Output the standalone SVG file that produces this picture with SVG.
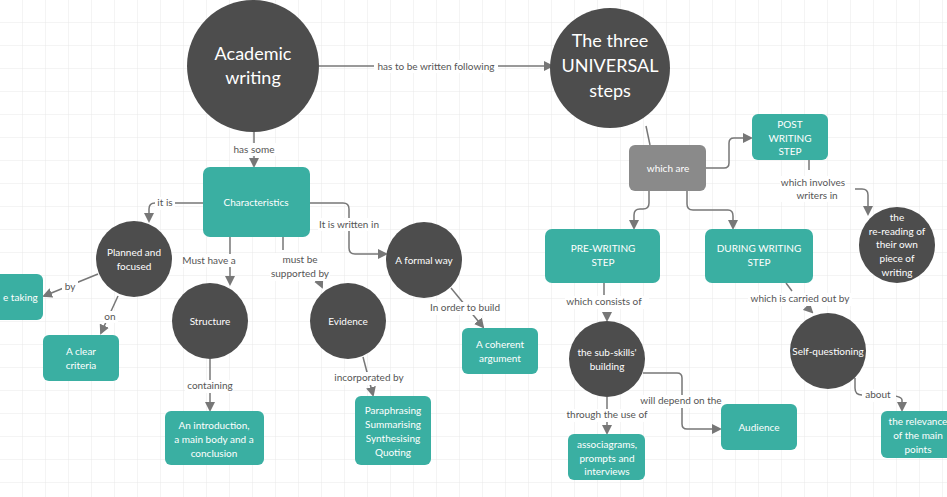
<svg xmlns="http://www.w3.org/2000/svg" width="947" height="497" viewBox="0 0 947 497">
<defs>
<pattern id="g" width="23" height="23" patternUnits="userSpaceOnUse"><path d="M23 0V23H0" fill="none" stroke="#e8e8e8" stroke-width="1"/></pattern>
<marker id="a" markerWidth="10" markerHeight="10" refX="8" refY="5" orient="auto" markerUnits="userSpaceOnUse"><path d="M0 0L10 5L0 10z" fill="#777"/></marker>
<style>
.c{fill:#4d4d4d}.b{fill:#3aafa2}.w{fill:#8a8a8a}
.t{font-family:Lato,"Liberation Sans",sans-serif;fill:#fff;text-anchor:middle;font-size:10px}
.T{font-family:Lato,"Liberation Sans",sans-serif;fill:#fff;text-anchor:middle;font-size:18px}
.l{font-family:Lato,"Liberation Sans",sans-serif;fill:#555;text-anchor:middle;font-size:10px}
.e path{fill:none;stroke:#777;stroke-width:1.5;marker-end:url(#a)}
.e path.n{marker-end:none}
.e rect{fill:#fff}
</style>
</defs>
<rect width="947" height="497" fill="#fff"/>
<rect width="947" height="497" fill="url(#g)"/>
<g class="e" id="connectors">
<path d="M319 66H552"/><rect x="374" y="60" width="124" height="13"/><text class="l" x="436" y="70">has to be written following</text>
<path d="M254 132V166"/><rect x="231" y="143" width="46" height="13"/><text class="l" x="254" y="153">has some</text>
<path d="M203 203H155Q149 203 149 209V221"/><rect x="155" y="197" width="20" height="13"/><text class="l" x="165" y="206">it is</text>
<path d="M310 203H343Q349 203 349 209V248Q349 254 355 254H386"/><rect x="318" y="218" width="62" height="13"/><text class="l" x="349" y="228">It is written in</text>
<path d="M230 237V284"/><rect x="180" y="254" width="58" height="13"/><text class="l" x="209" y="264">Must have a</text>
<path d="M283 237V250M316 274L322 287"/><rect x="270" y="253" width="60" height="28"/><text class="l" x="300" y="263">must be</text><text class="l" x="300" y="277">supported by</text>
<path d="M98 274L44 296"/><rect x="62" y="281" width="16" height="12"/><text class="l" x="70" y="290">by</text>
<path d="M118 296L101 333"/><rect x="104" y="311" width="14" height="12"/><text class="l" x="110" y="320">on</text>
<path d="M210 359V410"/><rect x="185" y="380" width="48" height="13"/><text class="l" x="210" y="389">containing</text>
<path d="M363 357L373 395"/><rect x="332" y="372" width="74" height="13"/><text class="l" x="369" y="381">incorporated by</text>
<path d="M451 288L483 327"/><rect x="428" y="302" width="74" height="13"/><text class="l" x="465" y="311">In order to build</text>
<path class="n" d="M646 126L650 145"/>
<path d="M706 168H724Q729 168 729 163V143Q729 138 734 138H751"/>
<path d="M649 191V203Q649 209 643 209H640Q634 209 634 215V228"/>
<path d="M687 191V204Q687 210 693 210H728Q733 210 733 216V228"/>
<path d="M809 160V170M855 189H862Q868 189 868 195V214"/><rect x="780" y="176" width="66" height="26"/><text class="l" x="813" y="186">which involves</text><text class="l" x="817" y="199">writers in</text>
<path d="M604 283V295M607 312V320"/><rect x="565" y="296" width="84" height="13"/><text class="l" x="604" y="305">which consists of</text>
<path d="M786 283L792 291M808 308L812 312"/><rect x="748" y="293" width="104" height="13"/><text class="l" x="800" y="302">which is carried out by</text>
<path d="M607 397V433"/><rect x="565" y="409" width="84" height="13"/><text class="l" x="607" y="418">through the use of</text>
<path d="M643 373H677Q682 373 682 378V424Q682 429 687 429H720"/><rect x="638" y="395" width="86" height="13"/><text class="l" x="681" y="404">will depend on the</text>
<path d="M855 378V388Q855 395 862 395H880Q902 395 902 400V410"/><rect x="862" y="389" width="34" height="13"/><text class="l" x="878" y="398">about</text>
</g>
<g id="academic"><circle class="c" cx="253" cy="66" r="66"/><text class="T" x="253" y="60">Academic</text><text class="T" x="253" y="84">writing</text></g>
<g id="universal"><circle class="c" cx="610" cy="68" r="60"/><text class="T" x="610" y="47">The three</text><text class="T" x="610" y="72">UNIVERSAL</text><text class="T" x="610" y="97">steps</text></g>
<g id="characteristics"><rect class="b" x="203" y="167" width="107" height="70" rx="7"/><text class="t" x="256" y="206">Characteristics</text></g>
<g id="planned"><circle class="c" cx="134" cy="259" r="38"/><text class="t" x="134" y="256">Planned and</text><text class="t" x="134" y="270">focused</text></g>
<g id="structure"><circle class="c" cx="210" cy="321" r="38"/><text class="t" x="210" y="325">Structure</text></g>
<g id="evidence"><circle class="c" cx="348" cy="321" r="38"/><text class="t" x="348" y="325">Evidence</text></g>
<g id="formal"><circle class="c" cx="424" cy="260" r="38"/><text class="t" x="424" y="264">A formal way</text></g>
<g id="taking"><rect class="b" x="-30" y="274" width="73" height="46" rx="6"/><text class="t" x="3" y="301" style="text-anchor:start">e taking</text></g>
<g id="criteria"><rect class="b" x="43" y="335" width="76" height="46" rx="6"/><text class="t" x="81" y="355">A clear</text><text class="t" x="81" y="369">criteria</text></g>
<g id="intro"><rect class="b" x="165" y="411" width="99" height="54" rx="6"/><text class="t" x="214" y="429">An introduction,</text><text class="t" x="214" y="443">a main body and a</text><text class="t" x="214" y="457">conclusion</text></g>
<g id="para"><rect class="b" x="355" y="396" width="76" height="69" rx="6"/><text class="t" x="393" y="414">Paraphrasing</text><text class="t" x="393" y="428">Summarising</text><text class="t" x="393" y="442">Synthesising</text><text class="t" x="393" y="456">Quoting</text></g>
<g id="coherent"><rect class="b" x="462" y="328" width="76" height="46" rx="6"/><text class="t" x="500" y="348">A coherent</text><text class="t" x="500" y="362">argument</text></g>
<g id="whichare"><rect class="w" x="629" y="145" width="77" height="46" rx="6"/><text class="t" x="668" y="172">which are</text></g>
<g id="post"><rect class="b" x="752" y="114" width="76" height="46" rx="6"/><text class="t" x="790" y="128">POST</text><text class="t" x="790" y="142">WRITING</text><text class="t" x="790" y="155">STEP</text></g>
<g id="reread"><circle class="c" cx="897" cy="245" r="38"/><text class="t" x="897" y="221">the</text><text class="t" x="897" y="235">re-reading of</text><text class="t" x="897" y="248">their own</text><text class="t" x="897" y="262">piece of</text><text class="t" x="897" y="276">writing</text></g>
<g id="pre"><rect class="b" x="545" y="229" width="115" height="54" rx="7"/><text class="t" x="603" y="252">PRE-WRITING</text><text class="t" x="603" y="266">STEP</text></g>
<g id="during"><rect class="b" x="705" y="229" width="108" height="54" rx="7"/><text class="t" x="759" y="252">DURING WRITING</text><text class="t" x="759" y="266">STEP</text></g>
<g id="subskills"><circle class="c" cx="607" cy="359" r="38"/><text class="t" x="607" y="356">the sub-skills'</text><text class="t" x="607" y="370">building</text></g>
<g id="selfq"><circle class="c" cx="828" cy="351" r="38"/><text class="t" x="828" y="355">Self-questioning</text></g>
<g id="audience"><rect class="b" x="721" y="404" width="76" height="46" rx="6"/><text class="t" x="759" y="431">Audience</text></g>
<g id="associa"><rect class="b" x="568" y="434" width="77" height="46" rx="6"/><text class="t" x="607" y="448">associagrams,</text><text class="t" x="607" y="462">prompts and</text><text class="t" x="607" y="475">interviews</text></g>
<g id="relevance"><rect class="b" x="881" y="411" width="80" height="47" rx="6"/><text class="t" x="918" y="425">the relevance</text><text class="t" x="918" y="439">of the main</text><text class="t" x="918" y="453">points</text></g>
</svg>
